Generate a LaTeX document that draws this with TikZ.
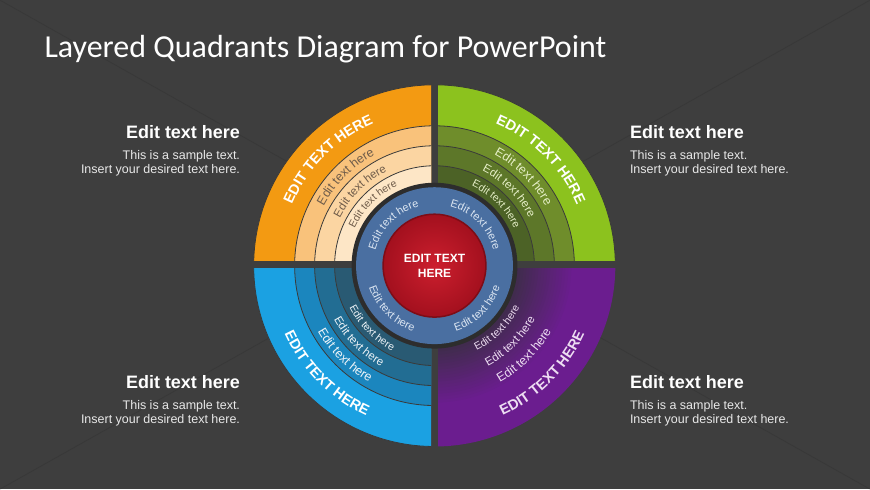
\documentclass[tikz,border=0pt]{standalone}
\usepackage{fontspec}
\setmainfont{Liberation Sans}
\newfontfamily\titlefont{Carlito}
\usetikzlibrary{decorations.text}

\definecolor{slidebg}{HTML}{3E3E3E}
\definecolor{diag}{HTML}{383838}
\definecolor{ringline}{HTML}{3A3A3A}
\definecolor{ringdark}{HTML}{2D2D2D}
\definecolor{ringblue}{HTML}{4A6FA1}
\definecolor{ringtext}{HTML}{DCE6F2}
\definecolor{redin}{HTML}{CC1F2E}
\definecolor{redout}{HTML}{A3101E}
\definecolor{redrim}{HTML}{7E0C16}
\definecolor{orA}{HTML}{F39A12}
\definecolor{orB}{HTML}{F9C27B}
\definecolor{orC}{HTML}{FBD5A2}
\definecolor{orD}{HTML}{FDE6C6}
\definecolor{ortext}{HTML}{6F5C4A}
\definecolor{grA}{HTML}{8CC21E}
\definecolor{grB}{HTML}{6F8D2B}
\definecolor{grC}{HTML}{5D7729}
\definecolor{grD}{HTML}{4C6226}
\definecolor{grtext}{HTML}{E6EFC8}
\definecolor{blA}{HTML}{1BA1E2}
\definecolor{blB}{HTML}{1B86BE}
\definecolor{blC}{HTML}{226D93}
\definecolor{blD}{HTML}{295A73}
\definecolor{bltext}{HTML}{EEF4F8}
\definecolor{puA}{HTML}{6B1D8F}
\definecolor{puD}{HTML}{3F2C4B}
\definecolor{putext}{HTML}{EDDDF2}
\definecolor{bodygray}{HTML}{E8E8E8}

\tikzset{bandline/.style = {draw=ringline, line width=0.8pt},
         diagline/.style = {draw=diag, line width=0.8pt},
         arctext/.style 2 args = {decorate,
                                  decoration={text along path, text align=center,
                                              text color=#1, text={#2}}},
         titletxt/.style = {text=white, inner sep=0pt, font=\titlefont\fontsize{32}{32}\selectfont},
         headtxt/.style = {text=white, inner sep=0pt, font=\bfseries\fontsize{18}{18}\selectfont},
         bodytxt/.style = {text=bodygray, inner sep=0pt, font=\fontsize{12.5}{14}\selectfont},
         centertxt/.style = {text=white, align=center, inner sep=0pt,
                             font=\bfseries\fontsize{12}{15}\selectfont}}

\newcommand\capsbig{\bfseries\fontsize{14.5}{14.5}\selectfont}
\newcommand\bandtwo{\fontsize{12.5}{12.5}\selectfont}
\newcommand\bandthree{\fontsize{11.5}{11.5}\selectfont}
\newcommand\bandfour{\fontsize{10.5}{10.5}\selectfont}
\newcommand\ringsize{\fontsize{11}{11}\selectfont}

\begin{document}
\begin{tikzpicture}[x=1pt, y=1pt]
    \fill [slidebg] (0, 0) rectangle (870, 489);
    \draw [diagline] (0, 0) -- (870, 489);
    \draw [diagline] (0, 489) -- (870, 0);

    \node [titletxt, anchor=base west] (title) at (44, 432) {Layered Quadrants Diagram for PowerPoint};

    % side captions
    \node [headtxt, anchor=base east] (tl-head) at (240, 350.7) {Edit text here};
    \node [bodytxt, anchor=base east] (tl-one) at (240, 329.7) {This is a sample text.};
    \node [bodytxt, anchor=base east] (tl-two) at (240, 316) {Insert your desired text here.};
    \node [headtxt, anchor=base west] (tr-head) at (630, 350.7) {Edit text here};
    \node [bodytxt, anchor=base west] (tr-one) at (630, 329.7) {This is a sample text.};
    \node [bodytxt, anchor=base west] (tr-two) at (630, 316) {Insert your desired text here.};
    \node [headtxt, anchor=base east] (bl-head) at (240, 100.7) {Edit text here};
    \node [bodytxt, anchor=base east] (bl-one) at (240, 79.7) {This is a sample text.};
    \node [bodytxt, anchor=base east] (bl-two) at (240, 66) {Insert your desired text here.};
    \node [headtxt, anchor=base west] (br-head) at (630, 100.7) {Edit text here};
    \node [bodytxt, anchor=base west] (br-one) at (630, 79.7) {This is a sample text.};
    \node [bodytxt, anchor=base west] (br-two) at (630, 66) {Insert your desired text here.};

    \begin{scope}[shift={(434.5, 223.5)}]
      \begin{scope}
        \clip (-200, 5) rectangle (-3.5, 200);
        \foreach \r/\c in {181/orA, 140/orB, 120/orC, 100/orD}
          \draw [bandline, fill=\c] (0, 0) circle [radius=\r pt];
      \end{scope}
      \begin{scope}
        \clip (3.5, 5) rectangle (200, 200);
        \foreach \r/\c in {181/grA, 140/grB, 120/grC, 100/grD}
          \draw [bandline, fill=\c] (0, 0) circle [radius=\r pt];
      \end{scope}
      \begin{scope}
        \clip (-200, -3) rectangle (-3.5, -200);
        \foreach \r/\c in {181/blA, 140/blB, 120/blC, 100/blD}
          \draw [bandline, fill=\c] (0, 0) circle [radius=\r pt];
      \end{scope}
      \begin{scope}
        \clip (3.5, -3) rectangle (200, -200);
        \fill [puA] (0, 0) circle [radius=181pt];
        \foreach \r [evaluate=\r as \p using int((\r-83)*100/57)] in {140,137,...,83}
          \fill [puA!\p!puD] (0, 0) circle [radius=\r pt];
      \end{scope}

      \fill [ringdark] (0, 0) circle [radius=83pt];
      \fill [ringblue] (0, 0) circle [radius=78.5pt];
      \shadedraw [inner color=redin, outer color=redout, draw=redrim, line width=1.5pt]
        (0, 0) circle [radius=51.5pt];
      \node [centertxt] (core) at (0, 0) {EDIT TEXT\\HERE};

      % outer band titles
      \path [arctext={white}{|\capsbig|EDIT TEXT HERE}] (175:155pt) arc [start angle=175, end angle=95, radius=155pt];
      \path [arctext={white}{|\capsbig|EDIT TEXT HERE}] (85:155pt) arc [start angle=85, end angle=5, radius=155pt];
      \path [arctext={white}{|\capsbig|EDIT TEXT HERE}] (185:165pt) arc [start angle=185, end angle=265, radius=165pt];
      \path [arctext={putext}{|\capsbig|EDIT TEXT HERE}] (275:165pt) arc [start angle=275, end angle=355, radius=165pt];

      % inner bands
      \foreach \rad/\fmt in {126/\bandtwo, 106/\bandthree, 88/\bandfour} {
        \path [arctext={ortext}{|\fmt|Edit text here}] (175:\rad pt) arc [start angle=175, end angle=95, radius=\rad pt];
        \path [arctext={grtext}{|\fmt|Edit text here}] (85:\rad pt) arc [start angle=85, end angle=5, radius=\rad pt];
      }
      \foreach \rad/\fmt in {134/\bandtwo, 114/\bandthree, 95/\bandfour} {
        \path [arctext={bltext}{|\fmt|Edit text here}] (185:\rad pt) arc [start angle=185, end angle=265, radius=\rad pt];
        \path [arctext={putext}{|\fmt|Edit text here}] (275:\rad pt) arc [start angle=275, end angle=355, radius=\rad pt];
      }

      % blue ring
      \path [arctext={ringtext}{|\ringsize|Edit text here}] (175:61pt) arc [start angle=175, end angle=95, radius=61pt];
      \path [arctext={ringtext}{|\ringsize|Edit text here}] (85:61pt) arc [start angle=85, end angle=5, radius=61pt];
      \path [arctext={ringtext}{|\ringsize|Edit text here}] (185:69pt) arc [start angle=185, end angle=265, radius=69pt];
      \path [arctext={ringtext}{|\ringsize|Edit text here}] (275:69pt) arc [start angle=275, end angle=355, radius=69pt];
    \end{scope}
\end{tikzpicture}
\end{document}
